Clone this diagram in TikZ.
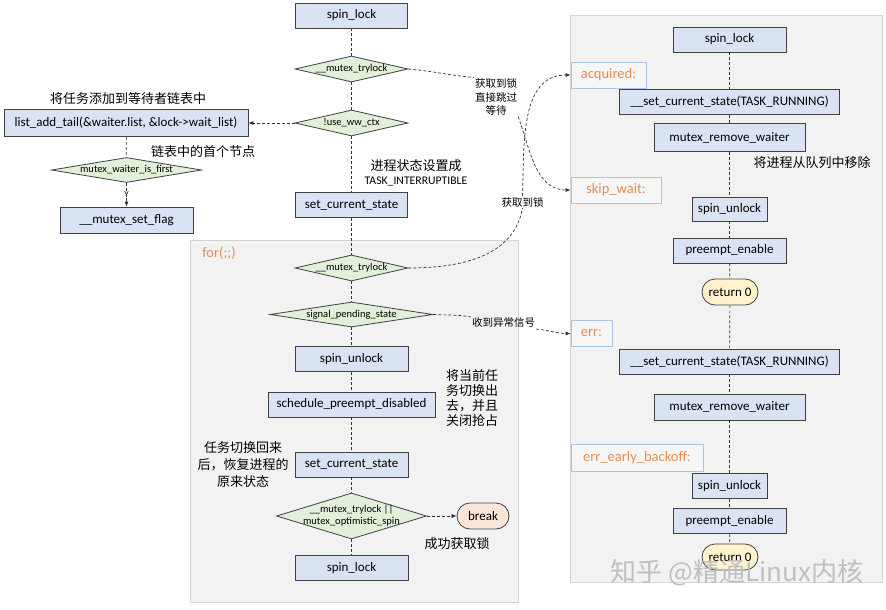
\documentclass[tikz,border=0pt]{standalone}
\usepackage{fontspec}
\setmainfont{Carlito}
\newfontfamily\cjk{Noto Sans CJK SC}
\usepackage{tikz}
\usetikzlibrary{shapes.geometric,shapes.misc,arrows.meta}
\definecolor{boxblue}{RGB}{218,227,243}
\definecolor{decgreen}{RGB}{226,240,217}
\definecolor{tagblue}{RGB}{170,196,228}
\definecolor{tagfill}{RGB}{246,246,246}
\definecolor{tagorange}{RGB}{228,140,85}
\definecolor{peach}{RGB}{251,229,214}
\definecolor{paleyellow}{RGB}{255,242,204}

\begin{document}
\begin{tikzpicture}[x=1pt,y=-1pt,
  box/.style={draw=black!75, fill=boxblue, line width=0.8pt, minimum height=25pt, inner sep=0pt, font=\fontsize{13}{15}\selectfont},
  dec/.style={diamond, draw=black!75, fill=decgreen, line width=0.8pt, inner sep=0pt, minimum width=113pt, minimum height=26pt, aspect=4.3, font=\fontsize{10.5}{12}\selectfont},
  tag/.style={draw=tagblue, fill=tagfill, line width=0.8pt, minimum height=26pt, inner sep=0pt, text=tagorange, font=\fontsize{14.5}{16}\selectfont},
  pill/.style={rounded rectangle, draw=black!75, line width=0.8pt, minimum height=26pt, inner sep=0pt, font=\fontsize{13}{15}\selectfont},
  panel/.style={draw=black!17, fill=black!5, line width=0.8pt},
  note/.style={font=\cjk\fontsize{13}{15}\selectfont, align=center, inner sep=1pt},
  small/.style={font=\cjk\fontsize{10.5}{13.5}\selectfont, align=center, inner sep=1pt},
  flow/.style={densely dashed, draw=black!80, line width=0.7pt},
  >={Latex[length=5pt,width=4pt]}]
\path[fill=white,use as bounding box] (0,0) rectangle (886,610);

\node[panel, minimum width=328pt, minimum height=362pt] (loop) at (354,421.5) {};
\node[panel, minimum width=312pt, minimum height=567pt] (tail) at (726,298.5) {};
\node[text=tagorange, font=\fontsize{14.5}{16}\selectfont] (forlbl) at (219,253) {for(;;)};

\node[box, minimum width=112pt] (sl1) at (351.5,15.5) {spin\_lock};
\node[dec] (d1) at (351.5,69) {\_\_mutex\_trylock};
\node[dec] (d2) at (351.5,123) {!use\_ww\_ctx};
\node[note] (st1note) at (416,173) {进程状态设置成\\[-1pt]{\rmfamily\fontsize{11.7}{13}\selectfont TASK\_INTERRUPTIBLE}};
\node[box, minimum width=112pt] (scs1) at (351.5,205) {set\_current\_state};

\node[box, minimum width=244pt, minimum height=27pt] (lat) at (126,123) {list\_add\_tail(\&waiter.list, \&lock->wait\_list)};
\node[note] (latnote) at (128,99) {将任务添加到等待者链表中};
\node[note] (firstnote) at (203,152) {链表中的首个节点};
\node[dec, minimum width=150pt, minimum height=25pt, aspect=6] (d6) at (126.5,170) {mutex\_waiter\_is\_first};
\node[box, minimum width=133pt, minimum height=26pt] (msf) at (126.5,220) {\_\_mutex\_set\_flag};

\node[dec] (d3) at (351.5,268) {\_\_mutex\_trylock};
\node[dec, minimum width=163pt, minimum height=25pt, aspect=6.5] (d4) at (351.5,314.5) {signal\_pending\_state};
\node[box, minimum width=113pt] (su1) at (351.5,359) {spin\_unlock};
\node[box, minimum width=167pt] (spd) at (351.5,404.5) {schedule\_preempt\_disabled};
\node[note] (spdnote) at (472,398) {将当前任\\务切换出\\去，并且\\关闭抢占};
\node[box, minimum width=113pt] (scs2) at (351.5,464.5) {set\_current\_state};
\node[note, font=\cjk\fontsize{13}{17}\selectfont] (scs2note) at (243,464.5) {任务切换回来\\后，恢复进程的\\原来状态};
\node[dec, minimum width=150pt, minimum height=46pt, aspect=3.3,
  label={[align=center, font=\fontsize{10.5}{12}\selectfont]center:\_\_mutex\_trylock ||\\mutex\_optimistic\_spin}] (d5) at (351.5,516) {};
\node[pill, fill=peach, minimum width=52pt] (brk) at (483,516) {break};
\node[note] (brknote) at (457,544) {成功获取锁};
\node[box, minimum width=113pt] (sl3) at (351.5,568) {spin\_lock};

\node[box, minimum width=113pt] (sl2) at (729.5,39.5) {spin\_lock};
\node[tag, minimum width=75pt] (acq) at (608.5,75) {acquired:};
\node[box, minimum width=220pt] (scr1) at (729.5,102) {\_\_set\_current\_state(TASK\_RUNNING)};
\node[box, minimum width=151pt, minimum height=28pt] (mrw1) at (729.5,137.5) {mutex\_remove\_waiter};
\node[note] (mrwnote) at (812,163) {将进程从队列中移除};
\node[tag, minimum width=90pt] (skw) at (616,190) {skip\_wait:};
\node[box, minimum width=75pt, minimum height=24pt] (su2) at (729.5,209) {spin\_unlock};
\node[box, minimum width=113pt] (pe1) at (729.5,250.5) {preempt\_enable};
\node[pill, fill=paleyellow, minimum width=56pt] (ret1) at (730,292) {return 0};
\node[tag, minimum width=41pt] (err) at (591.5,333.5) {err:};
\node[box, minimum width=220pt] (scr2) at (729.5,361.5) {\_\_set\_current\_state(TASK\_RUNNING)};
\node[box, minimum width=151pt, minimum height=26pt] (mrw2) at (729.5,407) {mutex\_remove\_waiter};
\node[tag, minimum width=132pt, minimum height=27pt] (eeb) at (637,457.5) {err\_early\_backoff:};
\node[box, minimum width=75pt] (su3) at (729.5,486) {spin\_unlock};
\node[box, minimum width=113pt] (pe2) at (729.5,521) {preempt\_enable};
\node[pill, fill=paleyellow, minimum width=56pt] (ret2) at (730,557) {return 0};

\node[small] (lbl1) at (496,97) {获取到锁\\直接跳过\\等待};
\node[small, fill=white] (lbl2) at (522.5,202) {获取到锁};
\node[small] (lbl3) at (503.5,323) {收到异常信号};

\path[flow]
  (sl1) edge (d1)
  (d1) edge (d2)
  (d2) edge (scs1)
  (scs1) edge (d3)
  (d3) edge (d4)
  (d4) edge (su1)
  (su1) edge (spd)
  (spd) edge (scs2)
  (scs2) edge (d5)
  (d5) edge (sl3)
  (lat) edge (d6)
  (sl2) edge (scr1)
  (scr1) edge (mrw1)
  (mrw1) edge (su2)
  (su2) edge (pe1)
  (pe1) edge (ret1)
  (ret1) edge (scr2)
  (scr2) edge (mrw2)
  (mrw2) edge (su3)
  (su3) edge (pe2)
  (pe2) edge (ret2)
  ;
\path[flow,->]
  (d2) edge (lat)
  (d6) edge node [fill=white, inner sep=0.5pt, font=\fontsize{9}{10}\selectfont] {Y} (msf)
  (d5) edge (brk)
  ;
\draw[flow] (d1.east) to[out=-5,in=175] (lbl1.north west);
\draw[flow,->] (lbl1.south east) to[out=-70,in=180] (skw.west);
\draw[flow] (d3.east) to[out=0,in=-100] (lbl2.south);
\draw[flow,->] (lbl2.north) to[out=88,in=180] (acq.west);
\draw[flow] (d4.east) to[out=-3,in=170] (lbl3.north west);
\draw[flow,->] (lbl3.south east) to[out=-5,in=180] (err.west);

\node[font=\cjk\fontsize{26}{28}\selectfont, text=black!25] (wm) at (737,573) {知乎 @精通Linux内核};
\end{tikzpicture}
\end{document}
